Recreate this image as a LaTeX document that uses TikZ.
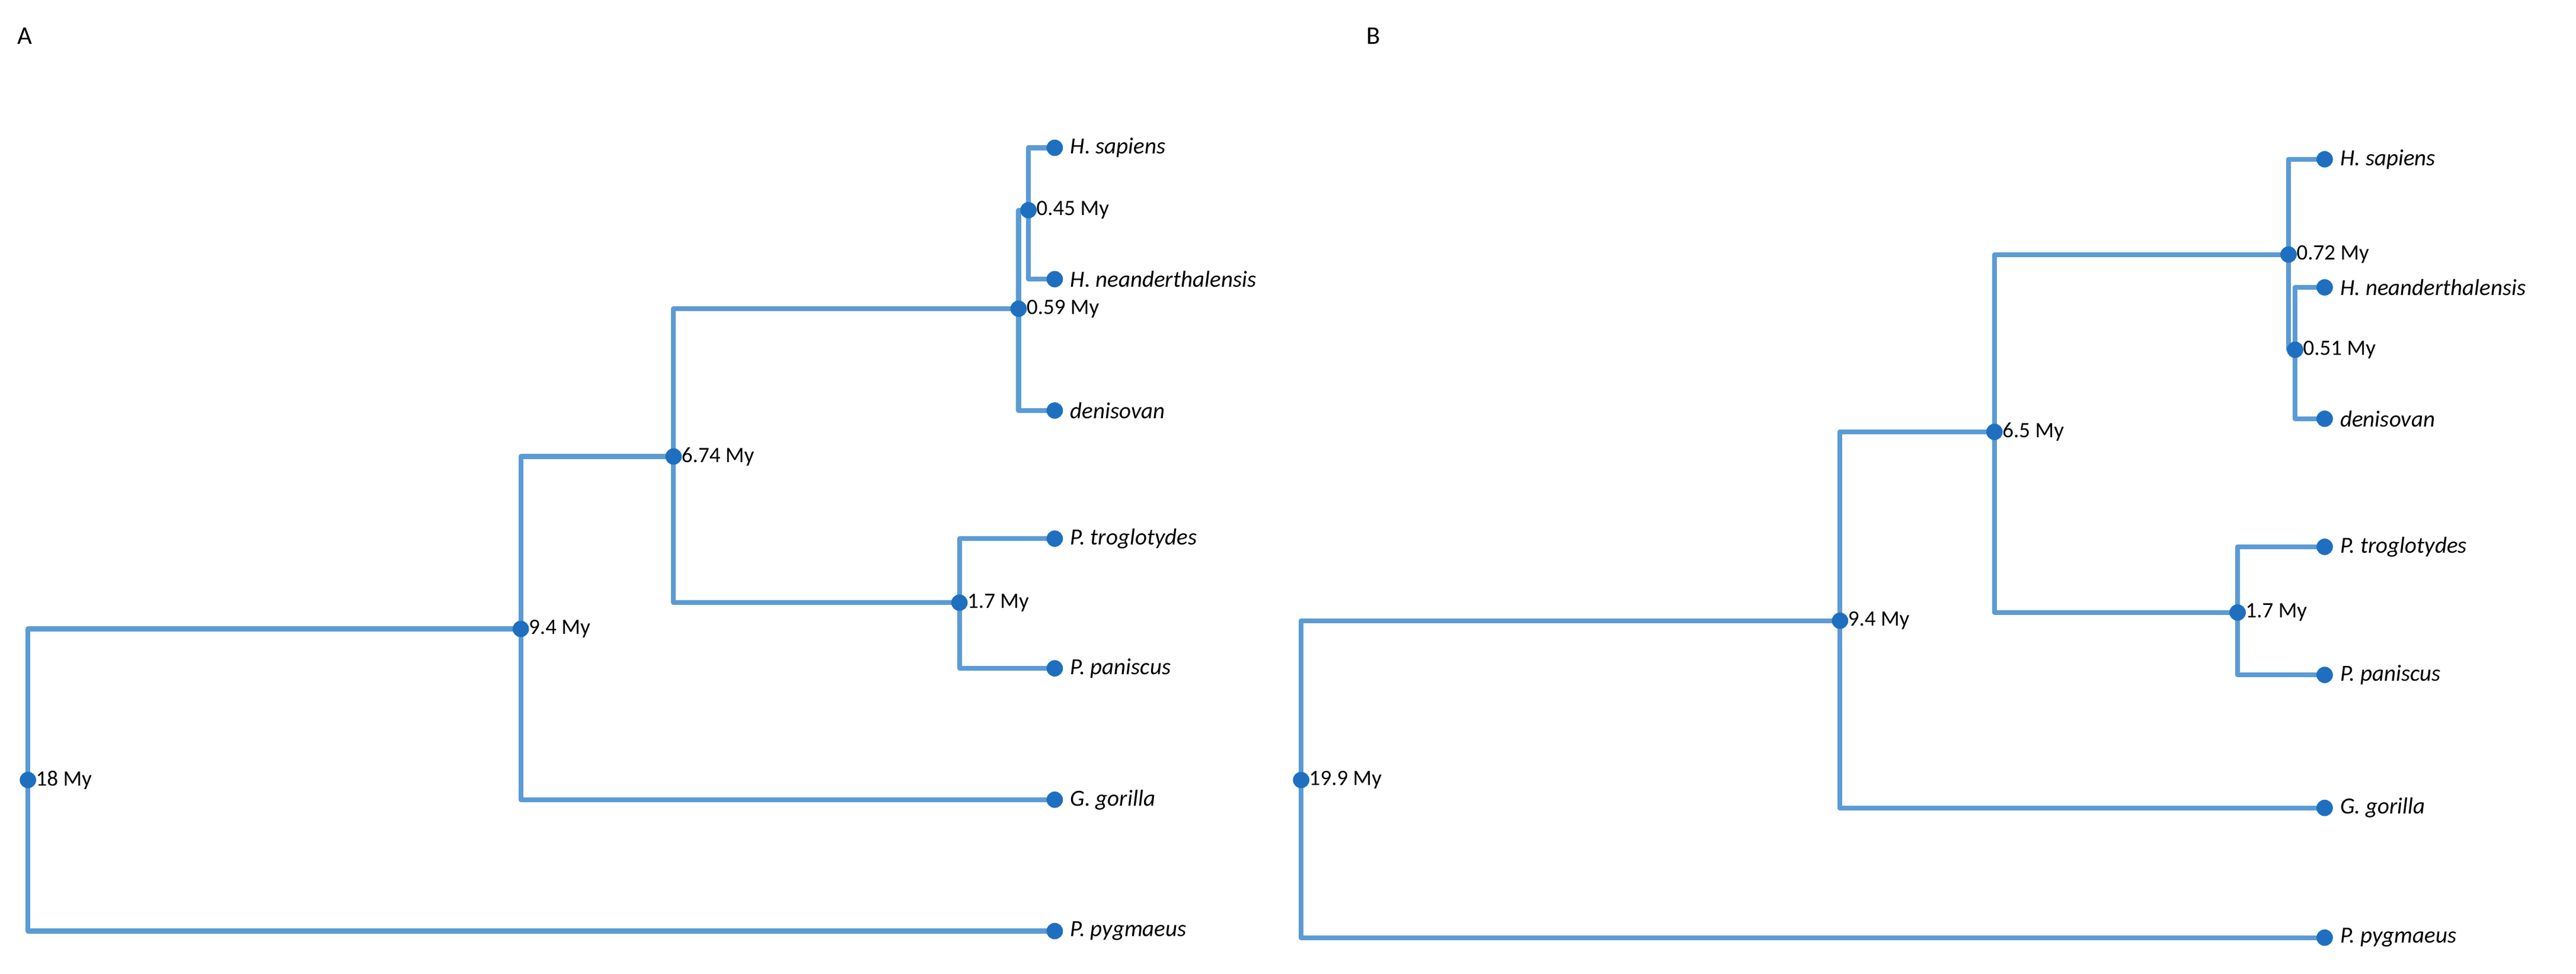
\documentclass[tikz,border=0pt]{standalone}
\usepackage{fontspec}
\setmainfont{Carlito}
\definecolor{ln}{HTML}{5B9BD5}
\definecolor{dt}{HTML}{1F6FC0}
\begin{document}
\begin{tikzpicture}[x=0.05cm,y=-0.05cm,
  br/.style={draw=ln,line width=4.2pt,line join=round},
  nd/.style={circle,fill=dt,inner sep=0pt,minimum size=0.5cm},
  lf/.style={font=\fontsize{20}{24}\selectfont\itshape,anchor=west,xshift=0.35cm},
  il/.style={font=\fontsize{19}{22}\selectfont,anchor=west,xshift=0.12cm}]
\useasboundingbox (0,0) rectangle (1568,593);
\node[font=\fontsize{22}{26}\selectfont] (lA) at (15,22) {A};
\node[font=\fontsize{22}{26}\selectfont] (lB) at (836,22) {B};
% ---- A
\coordinate (a18) at (17,475);
\coordinate (a94) at (317,383);
\coordinate (a674) at (410,278);
\coordinate (a059) at (620,188);
\coordinate (a045) at (626,128);
\coordinate (a17) at (584,367);
\coordinate (aHs) at (642,90);
\coordinate (aHn) at (642,170);
\coordinate (aDe) at (642,250);
\coordinate (aPt) at (642,328);
\coordinate (aPp) at (642,407);
\coordinate (aGg) at (642,487);
\coordinate (aPy) at (642,567);
\foreach \p/\c in {a18/a94,a18/aPy,a94/a674,a94/aGg,a674/a059,a674/a17,a059/a045,a059/aDe,a045/aHs,a045/aHn,a17/aPt,a17/aPp}
  \draw[br] (\p) |- (\c);
\foreach \n/\t in {a18/18 My,a94/9.4 My,a674/6.74 My,a059/0.59 My,a045/0.45 My,a17/1.7 My}
  {\node[nd] at (\n) {}; \node[il] at (\n) {\t};}
\foreach \n/\t in {aHs/H. sapiens,aHn/H. neanderthalensis,aDe/denisovan,aPt/P. troglotydes,aPp/P. paniscus,aGg/G. gorilla,aPy/P. pygmaeus}
  {\node[nd] at (\n) {}; \node[lf] at (\n) {\t};}
% ---- B
\coordinate (b199) at (792,475);
\coordinate (b94) at (1120,378);
\coordinate (b65) at (1214,263);
\coordinate (b072) at (1393,155);
\coordinate (b051) at (1397,213);
\coordinate (b17) at (1362,373);
\coordinate (bHs) at (1415,97);
\coordinate (bHn) at (1415,175);
\coordinate (bDe) at (1415,255);
\coordinate (bPt) at (1415,333);
\coordinate (bPp) at (1415,411);
\coordinate (bGg) at (1415,492);
\coordinate (bPy) at (1415,571);
\foreach \p/\c in {b199/b94,b199/bPy,b94/b65,b94/bGg,b65/b072,b65/b17,b072/bHs,b072/b051,b051/bHn,b051/bDe,b17/bPt,b17/bPp}
  \draw[br] (\p) |- (\c);
\foreach \n/\t in {b199/19.9 My,b94/9.4 My,b65/6.5 My,b072/0.72 My,b051/0.51 My,b17/1.7 My}
  {\node[nd] at (\n) {}; \node[il] at (\n) {\t};}
\foreach \n/\t in {bHs/H. sapiens,bHn/H. neanderthalensis,bDe/denisovan,bPt/P. troglotydes,bPp/P. paniscus,bGg/G. gorilla,bPy/P. pygmaeus}
  {\node[nd] at (\n) {}; \node[lf] at (\n) {\t};}
\end{tikzpicture}
\end{document}
